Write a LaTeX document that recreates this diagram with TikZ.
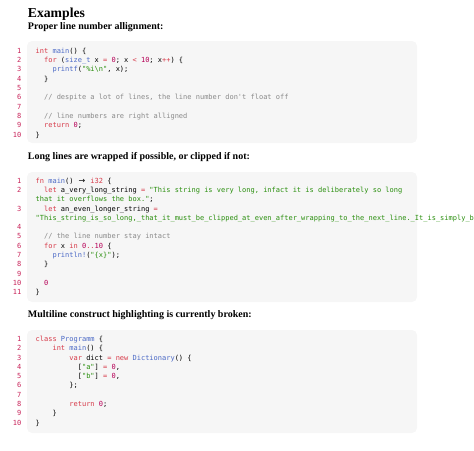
\documentclass[tikz,border=0pt]{standalone}
\usepackage{fontspec}
\setmainfont{Liberation Serif}
\setmonofont{DejaVu Sans Mono}
\newfontfamily\arrowfont{DejaVu Sans}
\definecolor{kwcol}{HTML}{D73A49}
\definecolor{numcol}{HTML}{B60157}
\definecolor{fncol}{HTML}{4B69C6}
\definecolor{strcol}{HTML}{298E0D}
\definecolor{cmtcol}{HTML}{8A8A8A}
\definecolor{lncol}{HTML}{C8245A}
\definecolor{codebg}{HTML}{F6F6F6}
\newcommand\Kw[1]{\textcolor{kwcol}{#1}}
\newcommand\Nm[1]{\textcolor{numcol}{#1}}
\newcommand\Fn[1]{\textcolor{fncol}{#1}}
\newcommand\Str[1]{\textcolor{strcol}{#1}}
\newcommand\Cmt[1]{\textcolor{cmtcol}{#1}}
\newdimen\cwid \cwid=4.2144pt
\newcommand\ind[1]{\hspace*{#1\cwid}}
\newcommand\Arrow{\makebox[2\cwid]{\arrowfont\fontsize{8}{9}\selectfont →}}
\newcommand\codefont{\ttfamily\fontsize{7}{9}\selectfont}
\tikzset{
  codeline/.style={anchor=base west, inner sep=0pt, font=\codefont, text=black},
  lnum/.style={anchor=base east, inner sep=0pt, font=\codefont, text=lncol},
  codebox/.style={fill=codebg, rounded corners=5pt},
  title/.style={anchor=base west, inner sep=0pt, font=\bfseries\fontsize{13.7}{16}\selectfont},
  subtitle/.style={anchor=base west, inner sep=0pt, font=\bfseries\fontsize{10}{12}\selectfont}
}
\begin{document}
\begin{tikzpicture}[x=1pt,y=-1pt]
\useasboundingbox (0,0) rectangle (474,450);
\begin{scope}
\clip (0,0) rectangle (474,450);
% headings
\node[title] (h0) at (27.7,17) {Examples};
\node[subtitle] (h1) at (27.7,29.6) {Proper line number allignment:};
\node[subtitle] (h2) at (27.7,159.7) {Long lines are wrapped if possible, or clipped if not:};
\node[subtitle] (h3) at (27.7,317.3) {Multiline construct highlighting is currently broken:};
% boxes
\fill[codebox] (27,41) rectangle (417,143);
\fill[codebox] (27,172) rectangle (417,302);
\fill[codebox] (27,330) rectangle (417,433);
% ---- box 1
\foreach \i in {1,...,10}
  \node[lnum] (an\i) at (21.5,{53.3+9.33*(\i-1)}) {\i};
\def\bx{35.5}
\node[codeline] (a1) at (\bx,{53.3+9.33*0}) {\Kw{int} \Fn{main}() \{};
\node[codeline] (a2) at (\bx,{53.3+9.33*1}) {\ind{2}\Kw{for} (\Fn{size\_t} x \Kw{=} \Nm{0}; x \Kw{<} \Nm{10}; x\Kw{++}) \{};
\node[codeline] (a3) at (\bx,{53.3+9.33*2}) {\ind{4}\Fn{printf}(\Str{"\%i\textbackslash n"}, x);};
\node[codeline] (a4) at (\bx,{53.3+9.33*3}) {\ind{2}\}};
\node[codeline] (a6) at (\bx,{53.3+9.33*5}) {\ind{2}\Cmt{// despite a lot of lines, the line number don't float off}};
\node[codeline] (a8) at (\bx,{53.3+9.33*7}) {\ind{2}\Cmt{// line numbers are right alligned}};
\node[codeline] (a9) at (\bx,{53.3+9.33*8}) {\ind{2}\Kw{return} \Nm{0};};
\node[codeline] (a10) at (\bx,{53.3+9.33*9}) {\}};
% ---- box 2
\foreach \n/\k in {1/0,2/1,3/3,4/5,5/6,6/7,7/8,8/9,9/10,10/11,11/12}
  \node[lnum] (bn\n) at (21.5,{183.3+9.27*\k}) {\n};
\node[codeline] (b1) at (\bx,{183.3+9.27*0}) {\Kw{fn} \Fn{main}() \Arrow{} \Kw{i32} \{};
\node[codeline] (b2) at (\bx,{183.3+9.27*1}) {\ind{2}\Kw{let} a\_very\_long\_string \Kw{=} \Str{"This string is very long, infact it is deliberately so long}};
\node[codeline] (b2w) at (\bx,{183.3+9.27*2}) {\Str{that it overflows the box."};};
\node[codeline] (b3) at (\bx,{183.3+9.27*3}) {\ind{2}\Kw{let} an\_even\_longer\_string \Kw{=}};
\node[codeline] (b3w) at (\bx,{183.3+9.27*4}) {\Str{"This\_string\_is\_so\_long,\_that\_it\_must\_be\_clipped\_at\_even\_after\_wrapping\_to\_the\_next\_line.\_It\_is\_simply\_b}};
\node[codeline] (b5) at (\bx,{183.3+9.27*6}) {\ind{2}\Cmt{// the line number stay intact}};
\node[codeline] (b6) at (\bx,{183.3+9.27*7}) {\ind{2}\Kw{for} x \Kw{in} \Nm{0}\Kw{..}\Nm{10} \{};
\node[codeline] (b7) at (\bx,{183.3+9.27*8}) {\ind{4}\Fn{println!}(\Str{"\{x\}"});};
\node[codeline] (b8) at (\bx,{183.3+9.27*9}) {\ind{2}\}};
\node[codeline] (b10) at (\bx,{183.3+9.27*11}) {\ind{2}\Nm{0}};
\node[codeline] (b11) at (\bx,{183.3+9.27*12}) {\}};
% ---- box 3
\foreach \i in {1,...,10}
  \node[lnum] (cn\i) at (21.5,{341.6+9.27*(\i-1)}) {\i};
\node[codeline] (c1) at (\bx,{341.6+9.27*0}) {\Kw{class} \Fn{Programm} \{};
\node[codeline] (c2) at (\bx,{341.6+9.27*1}) {\ind{4}\Kw{int} \Fn{main}() \{};
\node[codeline] (c3) at (\bx,{341.6+9.27*2}) {\ind{8}\Kw{var} dict \Kw{=} \Kw{new} \Fn{Dictionary}() \{};
\node[codeline] (c4) at (\bx,{341.6+9.27*3}) {\ind{10}[\Str{"a"}] \Kw{=} \Nm{0},};
\node[codeline] (c5) at (\bx,{341.6+9.27*4}) {\ind{10}[\Str{"b"}] \Kw{=} \Nm{0},};
\node[codeline] (c6) at (\bx,{341.6+9.27*5}) {\ind{8}\};};
\node[codeline] (c8) at (\bx,{341.6+9.27*7}) {\ind{8}\Kw{return} \Nm{0};};
\node[codeline] (c9) at (\bx,{341.6+9.27*8}) {\ind{4}\}};
\node[codeline] (c10) at (\bx,{341.6+9.27*9}) {\}};
\end{scope}
\end{tikzpicture}
\end{document}
